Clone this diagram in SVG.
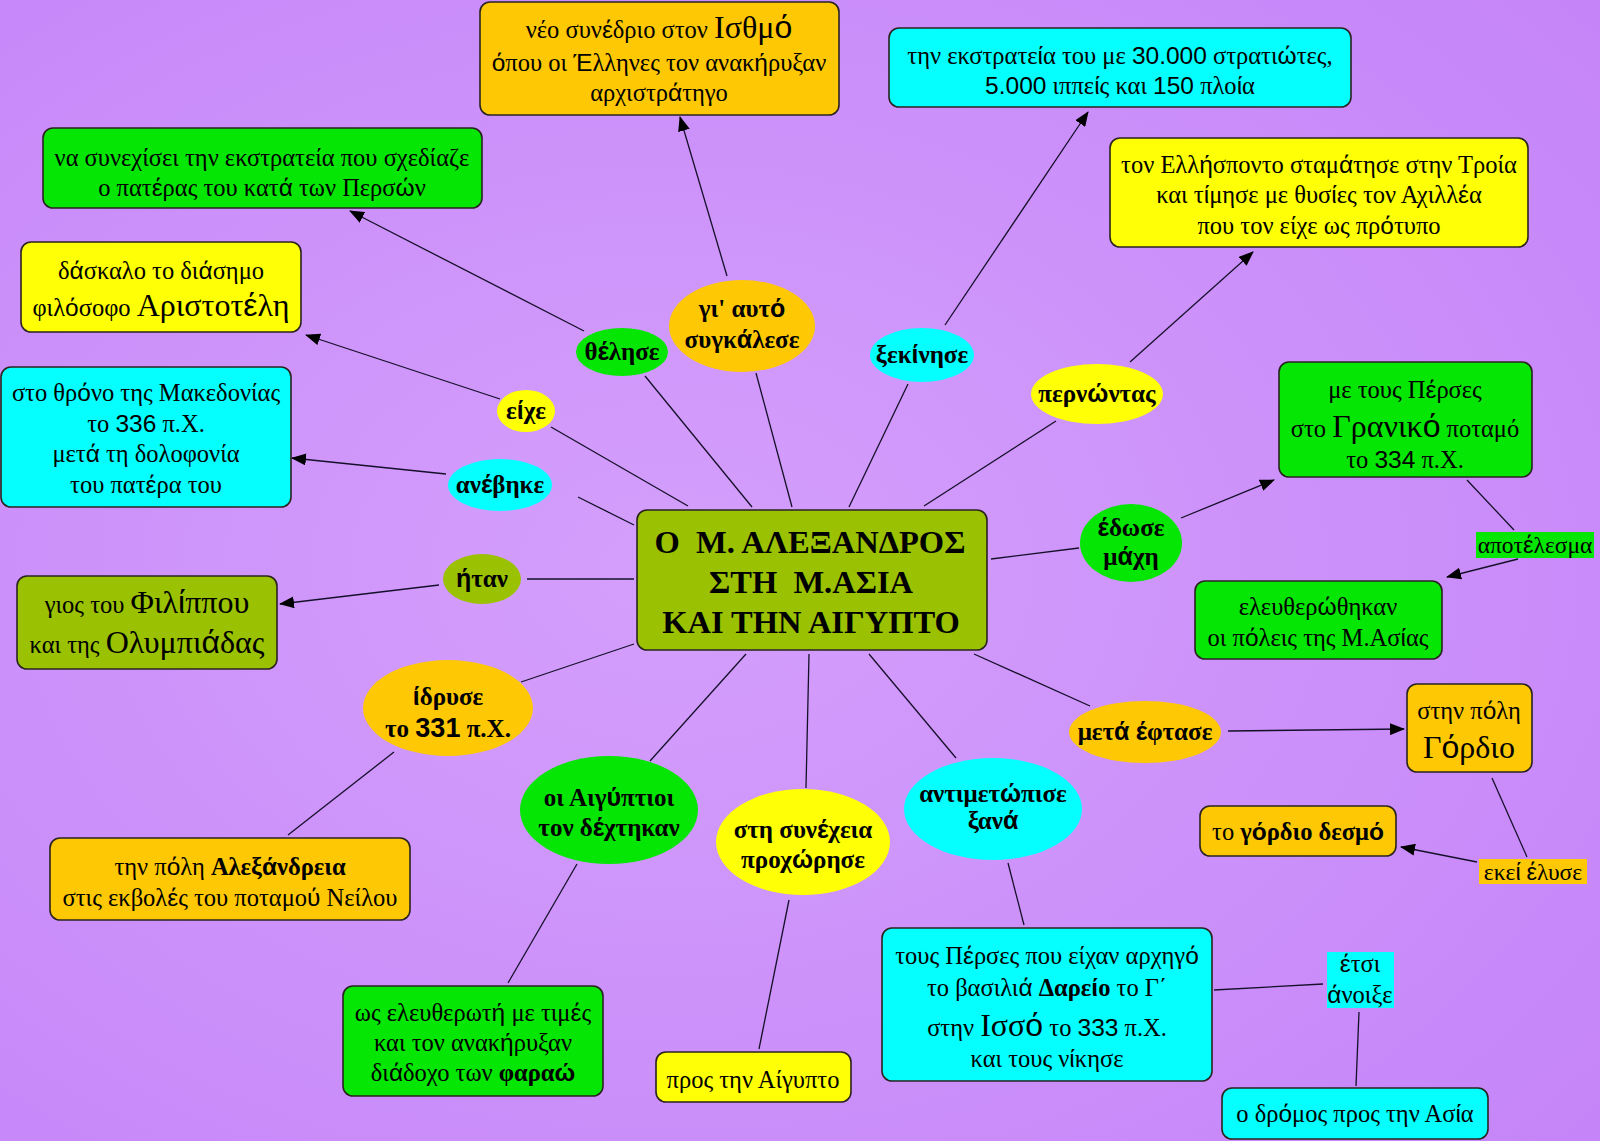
<svg xmlns="http://www.w3.org/2000/svg" width="1600" height="1141" viewBox="0 0 1600 1141">
<defs>
<radialGradient id="bg" cx="0.42" cy="0.5" r="0.75">
<stop offset="0" stop-color="#D49FFC"/>
<stop offset="1" stop-color="#C585F8"/>
</radialGradient>
<marker id="ah" markerWidth="15" markerHeight="12" refX="14" refY="6" orient="auto" markerUnits="userSpaceOnUse">
<path d="M0,0 L15,6 L0,12 z" fill="#000"/>
</marker>
<style>
.box{stroke:#2a2320;stroke-width:1.6}
.or{fill:#FFC805}
.gr{fill:#05E605}
.ye{fill:#FFFF05}
.cy{fill:#05FFFF}
.ol{fill:#9AC102}
text{font-family:"Liberation Serif","DejaVu Serif",serif;fill:#000;text-anchor:middle}
.t{font-size:24.5px}
.l{font-size:23.5px}
.e{font-size:25px;font-weight:bold}
.c{font-size:32.5px;font-weight:bold}
.s{font-family:"Liberation Sans","DejaVu Sans",sans-serif}
.b{font-weight:bold}
.g{font-size:32px}
.con line{stroke:#15102a;stroke-width:1.3}
.con .a{marker-end:url(#ah)}
</style>
</defs>
<rect width="1600" height="1141" fill="url(#bg)"/>

<g class="con">
<line x1="752" y1="507" x2="645" y2="376"/>
<line class="a" x1="584" y1="331" x2="350" y2="211"/>
<line x1="792" y1="507" x2="756" y2="373"/>
<line class="a" x1="727" y1="276" x2="680" y2="117"/>
<line x1="849" y1="507" x2="908" y2="384"/>
<line class="a" x1="945" y1="325" x2="1088" y2="112"/>
<line x1="924" y1="506" x2="1056" y2="421"/>
<line class="a" x1="1130" y1="362" x2="1253" y2="252"/>
<line x1="991" y1="559" x2="1079" y2="548"/>
<line class="a" x1="1181" y1="518" x2="1274" y2="480"/>
<line x1="1467" y1="480" x2="1514" y2="530"/>
<line class="a" x1="1518" y1="559" x2="1447" y2="577"/>
<line x1="974" y1="654" x2="1090" y2="706"/>
<line class="a" x1="1228" y1="731" x2="1404" y2="729"/>
<line x1="1492" y1="778" x2="1527" y2="857"/>
<line class="a" x1="1477" y1="862" x2="1401" y2="847"/>
<line x1="869" y1="654" x2="956" y2="758"/>
<line x1="1008" y1="863" x2="1024" y2="925"/>
<line x1="1214" y1="990" x2="1323" y2="984"/>
<line x1="1359" y1="1012" x2="1356" y2="1086"/>
<line x1="809" y1="654" x2="806" y2="788"/>
<line x1="789" y1="900" x2="759" y2="1049"/>
<line x1="746" y1="654" x2="650" y2="761"/>
<line x1="577" y1="864" x2="508" y2="983"/>
<line x1="634" y1="644" x2="521" y2="682"/>
<line x1="394" y1="752" x2="288" y2="835"/>
<line x1="634" y1="579" x2="527" y2="579"/>
<line class="a" x1="439" y1="585" x2="280" y2="604"/>
<line x1="634" y1="525" x2="578" y2="497"/>
<line class="a" x1="446" y1="474" x2="292" y2="458"/>
<line x1="688" y1="506" x2="551" y2="427"/>
<line class="a" x1="500" y1="399" x2="306" y2="335"/>
</g>

<g id="center">
<rect class="box ol" x="637" y="510" width="350" height="140" rx="10"/>
<text class="c" x="810" y="553" xml:space="preserve">Ο  Μ. ΑΛΕΞΑΝΔΡΟΣ</text>
<text class="c" x="811" y="593" xml:space="preserve">ΣΤΗ  Μ.ΑΣΙΑ</text>
<text class="c" x="811" y="633">ΚΑΙ ΤΗΝ ΑΙΓΥΠΤΟ</text>
</g>

<g id="n-isthmos">
<rect class="box or" x="480" y="2" width="359" height="113" rx="10"/>
<text class="t" x="659" y="38">νέο συν<tspan class="s">έ</tspan>δριο στον <tspan class="g">Ισθμ<tspan class="s">ό</tspan></tspan></text>
<text class="t" x="659" y="71"><tspan class="s">ό</tspan>που οι <tspan class="s">Έ</tspan>λληνες τον ανακ<tspan class="s">ή</tspan>ρυξαν</text>
<text class="t" x="659" y="101">αρχιστρ<tspan class="s">ά</tspan>τηγο</text>
</g>

<g id="n-ekstrateia-pateras">
<rect class="box gr" x="43" y="128" width="439" height="80" rx="10"/>
<text class="t" x="262" y="166">να συνεχίσει την εκστρατεία που σχεδίαζε</text>
<text class="t" x="262" y="196">ο πατ<tspan class="s">έ</tspan>ρας του κατ<tspan class="s">ά</tspan> των Περσ<tspan class="s">ώ</tspan>ν</text>
</g>

<g id="n-aristotelis">
<rect class="box ye" x="21" y="242" width="280" height="90" rx="10"/>
<text class="t" x="161" y="279">δ<tspan class="s">ά</tspan>σκαλο το δι<tspan class="s">ά</tspan>σημο</text>
<text class="t" x="161" y="316">φιλ<tspan class="s">ό</tspan>σοφο <tspan class="g">Αριστοτ<tspan class="s">έ</tspan>λη</tspan></text>
</g>

<g id="n-thronos">
<rect class="box cy" x="1" y="367" width="290" height="140" rx="10"/>
<text class="t" x="146" y="401">στο θρ<tspan class="s">ό</tspan>νο της Μακεδονίας</text>
<text class="t" x="146" y="432">το <tspan class="s">336</tspan> π.Χ.</text>
<text class="t" x="146" y="462">μετ<tspan class="s">ά</tspan> τη δολοφονία</text>
<text class="t" x="146" y="493">του πατ<tspan class="s">έ</tspan>ρα του</text>
</g>

<g id="n-filippos">
<rect class="box ol" x="17" y="576" width="260" height="93" rx="10"/>
<text class="t" x="147" y="613">γιος του <tspan class="g">Φιλ<tspan class="s">ί</tspan>ππου</tspan></text>
<text class="t" x="147" y="653">και της <tspan class="g">Ολυμπι<tspan class="s">ά</tspan>δας</tspan></text>
</g>

<g id="n-alexandreia">
<rect class="box or" x="50" y="838" width="360" height="82" rx="10"/>
<text class="t" x="230" y="875">την π<tspan class="s">ό</tspan>λη <tspan class="b">Αλεξ<tspan class="s">ά</tspan>νδρεια</tspan></text>
<text class="t" x="230" y="906">στις εκβολ<tspan class="s">έ</tspan>ς του ποταμο<tspan class="s">ύ</tspan> Νείλου</text>
</g>

<g id="n-faraw">
<rect class="box gr" x="343" y="986" width="260" height="110" rx="10"/>
<text class="t" x="473" y="1021">ως ελευθερωτ<tspan class="s">ή</tspan> με τιμ<tspan class="s">έ</tspan>ς</text>
<text class="t" x="473" y="1051">και τον ανακ<tspan class="s">ή</tspan>ρυξαν</text>
<text class="t" x="473" y="1081">δι<tspan class="s">ά</tspan>δοχο των <tspan class="b">φαρα<tspan class="s">ώ</tspan></tspan></text>
</g>

<g id="n-aigypto">
<rect class="box ye" x="656" y="1052" width="195" height="50" rx="10"/>
<text class="t" x="753" y="1088">προς την Αίγυπτο</text>
</g>

<g id="n-isso">
<rect class="box cy" x="882" y="928" width="330" height="153" rx="10"/>
<text class="t" x="1047" y="964">τους Π<tspan class="s">έ</tspan>ρσες που είχαν αρχηγ<tspan class="s">ό</tspan></text>
<text class="t" x="1047" y="996">το βασιλι<tspan class="s">ά</tspan> <tspan class="b">Δαρε<tspan class="s">ί</tspan>ο</tspan> το Γ΄</text>
<text class="t" x="1047" y="1036">στην <tspan class="g">Ισσ<tspan class="s">ό</tspan></tspan> το <tspan class="s">333</tspan> π.Χ.</text>
<text class="t" x="1047" y="1067">και τους ν<tspan class="s">ί</tspan>κησε</text>
</g>

<g id="n-dromos">
<rect class="box cy" x="1222" y="1088" width="266" height="51" rx="10"/>
<text class="t" x="1355" y="1122">ο δρ<tspan class="s">ό</tspan>μος προς την Ασ<tspan class="s">ί</tspan>α</text>
</g>

<g id="n-etsi">
<rect class="cy" x="1327" y="952" width="67" height="56"/>
<text class="t" x="1360" y="972"><tspan class="s">έ</tspan>τσι</text>
<text class="t" x="1360" y="1003"><tspan class="s">ά</tspan>νοιξε</text>
</g>

<g id="n-desmos">
<rect class="box or" x="1200" y="806" width="196" height="50" rx="10"/>
<text class="t" x="1298" y="840">το <tspan class="b">γ<tspan class="s">ό</tspan>ρδιο δεσμ<tspan class="s">ό</tspan></tspan></text>
</g>

<g id="n-elyse">
<rect class="or" x="1479" y="859" width="108" height="25"/>
<text class="l" x="1533" y="880">εκε<tspan class="s">ί</tspan> <tspan class="s">έ</tspan>λυσε</text>
</g>

<g id="n-gordio">
<rect class="box or" x="1407" y="684" width="125" height="88" rx="10"/>
<text class="t" x="1469" y="719">στην π<tspan class="s">ό</tspan>λη</text>
<text class="t g" x="1469" y="758">Γ<tspan class="s">ό</tspan>ρδιο</text>
</g>

<g id="n-poleis">
<rect class="box gr" x="1195" y="581" width="247" height="78" rx="10"/>
<text class="t" x="1318" y="615">ελευθερ<tspan class="s">ώ</tspan>θηκαν</text>
<text class="t" x="1318" y="646">οι π<tspan class="s">ό</tspan>λεις της Μ.Ασ<tspan class="s">ί</tspan>ας</text>
</g>

<g id="n-apotelesma">
<rect class="gr" x="1476" y="532" width="118" height="26"/>
<text class="l" x="1535" y="553">αποτ<tspan class="s">έ</tspan>λεσμα</text>
</g>

<g id="n-graniko">
<rect class="box gr" x="1279" y="362" width="253" height="115" rx="10"/>
<text class="t" x="1405" y="398">με τους Π<tspan class="s">έ</tspan>ρσες</text>
<text class="t" x="1405" y="437">στο <tspan class="g">Γρανικ<tspan class="s">ό</tspan></tspan> ποταμό</text>
<text class="t" x="1405" y="468">το <tspan class="s">334</tspan> π.Χ.</text>
</g>

<g id="n-troia">
<rect class="box ye" x="1110" y="138" width="418" height="109" rx="10"/>
<text class="t" x="1319" y="173">τον Ελλ<tspan class="s">ή</tspan>σποντο σταμ<tspan class="s">ά</tspan>τησε στην Τροία</text>
<text class="t" x="1319" y="203">και τ<tspan class="s">ί</tspan>μησε με θυσ<tspan class="s">ί</tspan>ες τον Αχιλλ<tspan class="s">έ</tspan>α</text>
<text class="t" x="1319" y="234">που τον είχε ως πρ<tspan class="s">ό</tspan>τυπο</text>
</g>

<g id="n-stratos">
<rect class="box cy" x="889" y="28" width="462" height="79" rx="10"/>
<text class="t" x="1120" y="64">την εκστρατε<tspan class="s">ί</tspan>α του με <tspan class="s">30.000</tspan> στρατι<tspan class="s">ώ</tspan>τες,</text>
<text class="t" x="1120" y="94"><tspan class="s">5.000</tspan> ιππε<tspan class="s">ί</tspan>ς και <tspan class="s">150</tspan> πλο<tspan class="s">ί</tspan>α</text>
</g>

<g id="e-thelise">
<ellipse class="gr" cx="622" cy="352" rx="46" ry="24"/>
<text class="e" x="622" y="360">θ<tspan class="s">έ</tspan>λησε</text>
</g>
<g id="e-synkalese">
<ellipse class="or" cx="742" cy="326" rx="73" ry="46"/>
<text class="e" x="742" y="317">γι' αυτ<tspan class="s">ό</tspan></text>
<text class="e" x="742" y="348">συγκ<tspan class="s">ά</tspan>λεσε</text>
</g>
<g id="e-xekinise">
<ellipse class="cy" cx="922" cy="355" rx="52" ry="27"/>
<text class="e" x="922" y="363">ξεκ<tspan class="s">ί</tspan>νησε</text>
</g>
<g id="e-pernontas">
<ellipse class="ye" cx="1097" cy="394" rx="66" ry="30"/>
<text class="e" x="1097" y="402">περν<tspan class="s">ώ</tspan>ντας</text>
</g>
<g id="e-edose">
<ellipse class="gr" cx="1131" cy="543" rx="51" ry="39"/>
<text class="e" x="1131" y="536"><tspan class="s">έ</tspan>δωσε</text>
<text class="e" x="1131" y="565">μ<tspan class="s">ά</tspan>χη</text>
</g>
<g id="e-eftase">
<ellipse class="or" cx="1145" cy="732" rx="76" ry="31"/>
<text class="e" x="1145" y="740">μετ<tspan class="s">ά</tspan> <tspan class="s">έ</tspan>φτασε</text>
</g>
<g id="e-antimetopise">
<ellipse class="cy" cx="993" cy="809" rx="89" ry="51"/>
<text class="e" x="993" y="802">αντιμετ<tspan class="s">ώ</tspan>πισε</text>
<text class="e" x="993" y="829">ξαν<tspan class="s">ά</tspan></text>
</g>
<g id="e-proxorise">
<ellipse class="ye" cx="803" cy="842" rx="87" ry="53"/>
<text class="e" x="803" y="838">στη συν<tspan class="s">έ</tspan>χεια</text>
<text class="e" x="803" y="868">προχ<tspan class="s">ώ</tspan>ρησε</text>
</g>
<g id="e-aigyptioi">
<ellipse class="gr" cx="609" cy="810" rx="89" ry="54"/>
<text class="e" x="609" y="806">οι Αιγ<tspan class="s">ύ</tspan>πτιοι</text>
<text class="e" x="609" y="836">τον δ<tspan class="s">έ</tspan>χτηκαν</text>
</g>
<g id="e-idryse">
<ellipse class="or" cx="448" cy="708" rx="85" ry="48"/>
<text class="e" x="448" y="705"><tspan class="s">ί</tspan>δρυσε</text>
<text class="e" x="448" y="737">το <tspan class="s" style="font-size:27px">331</tspan> π.Χ.</text>
</g>
<g id="e-itan">
<ellipse class="ol" cx="482" cy="579" rx="39" ry="25"/>
<text class="e" x="482" y="587"><tspan class="s">ή</tspan>ταν</text>
</g>
<g id="e-anevike">
<ellipse class="cy" cx="500" cy="485" rx="52" ry="26"/>
<text class="e" x="500" y="493">αν<tspan class="s">έ</tspan>βηκε</text>
</g>
<g id="e-eixe">
<ellipse class="ye" cx="526" cy="411" rx="29" ry="21"/>
<text class="e" x="526" y="419">ε<tspan class="s">ί</tspan>χε</text>
</g>
</svg>
